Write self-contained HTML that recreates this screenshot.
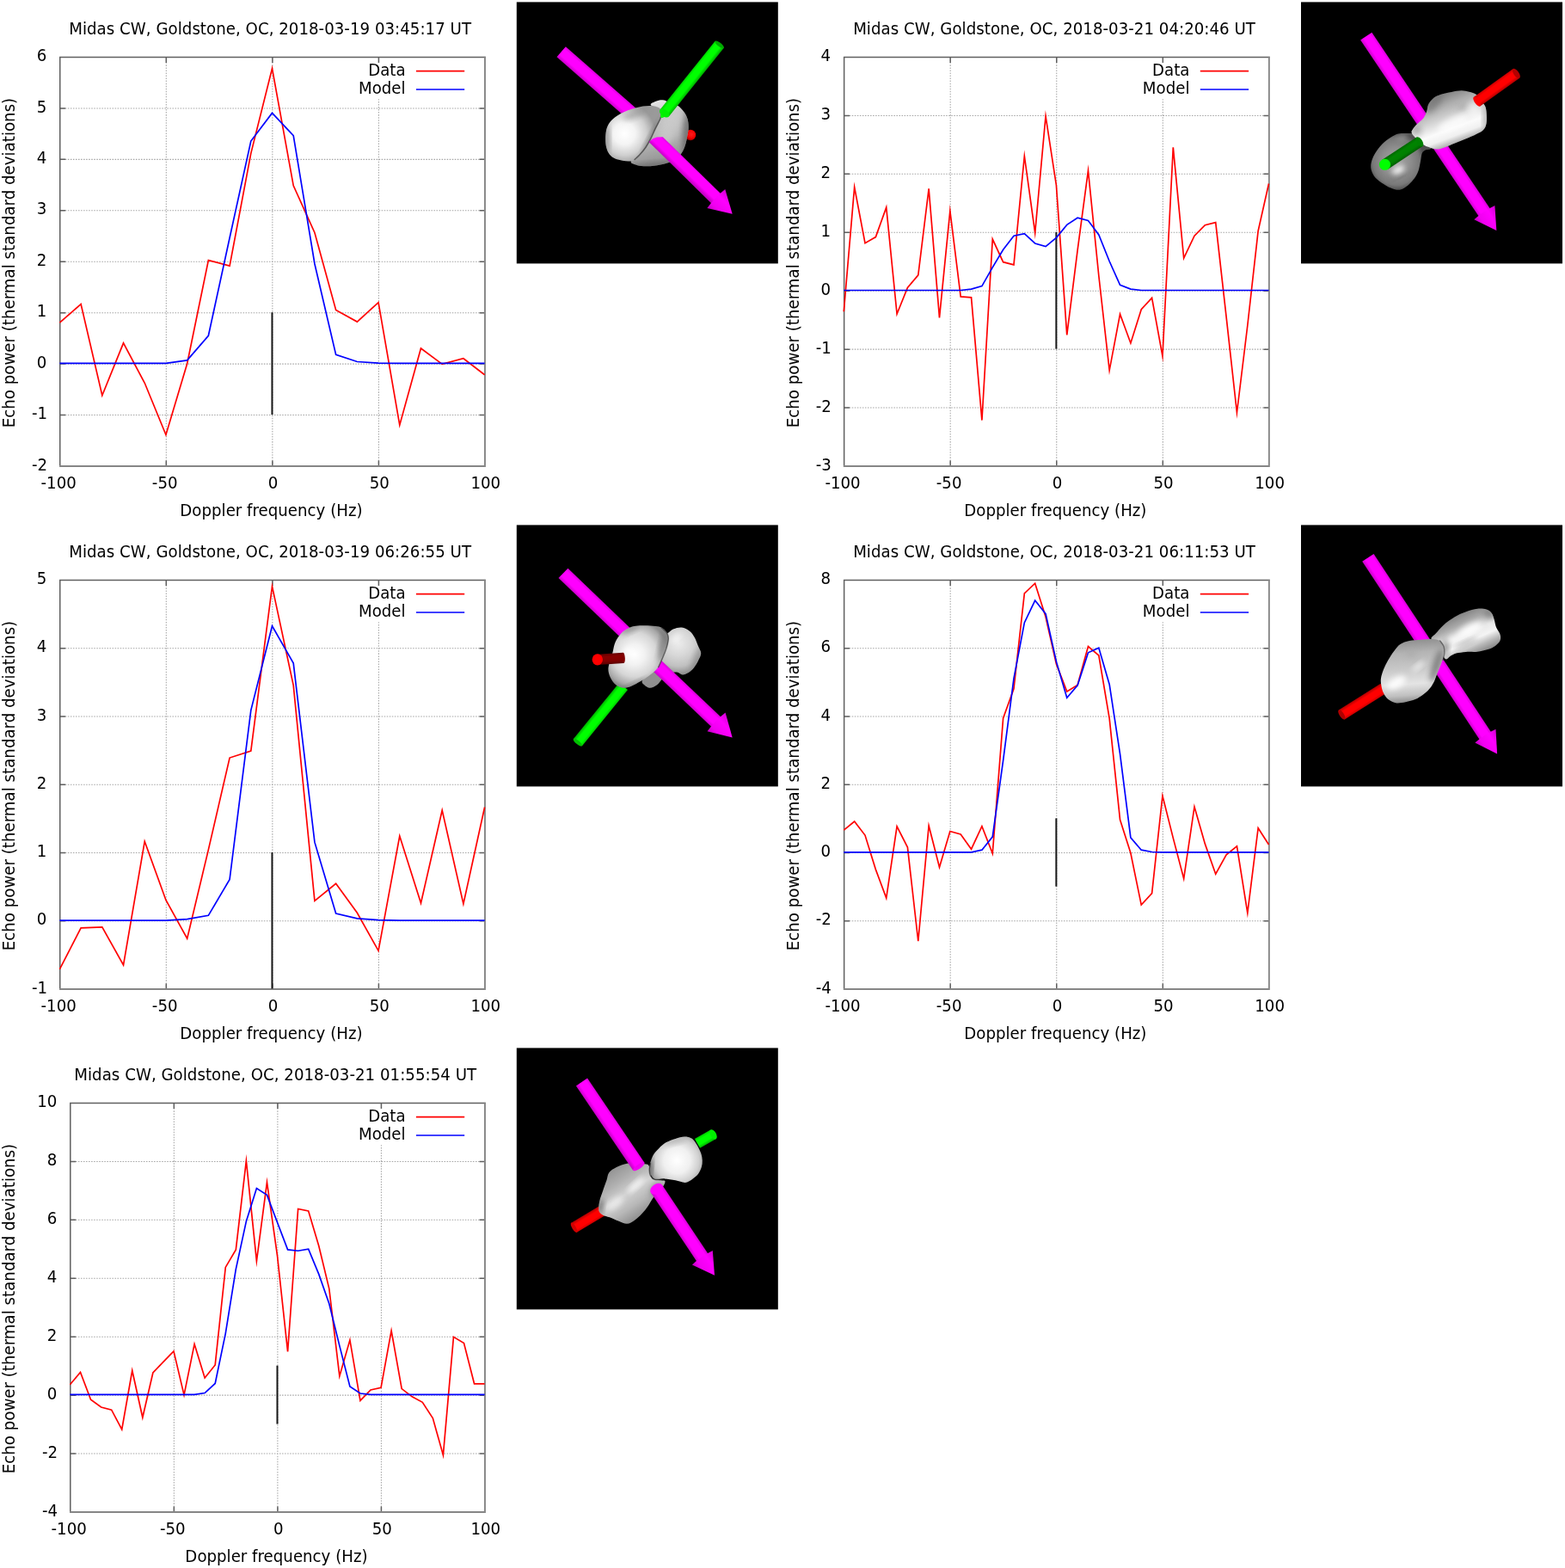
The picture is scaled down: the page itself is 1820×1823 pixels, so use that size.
<!DOCTYPE html>
<html lang="en"><head><meta charset="utf-8"><title>Midas CW spectra, Goldstone</title>
<style>
html,body{margin:0;padding:0;background:#fff}
body{width:1820px;height:1823px;overflow:hidden}
svg{display:block}
text{font-family:"DejaVu Sans","Liberation Sans",sans-serif;font-size:18.2px;fill:#000}
.grid{fill:none;stroke:#a4a4a4;stroke-width:1.05;stroke-dasharray:1.52 1.52}
.frame{fill:none;stroke:#606060;stroke-width:1.5}
.frame2{fill:none;stroke:#868686;stroke-width:1.9}
.mark{fill:none;stroke:#181818;stroke-width:2.0}
.red{fill:none;stroke:#f00;stroke-width:1.7;stroke-linejoin:miter;stroke-miterlimit:9.7}
.blue{fill:none;stroke:#00f;stroke-width:1.7;stroke-linejoin:miter;stroke-miterlimit:9.7}
</style></head><body>
<svg width="1820" height="1823" viewBox="0 0 1820 1823">
<rect width="1820" height="1823" fill="#fff"/>
<g>
<path class="grid" d="M193.3 542V66.48M316.86 542V66.48M440.41 542V66.48M69.75 482.56H563.96M69.75 423.12H563.96M69.75 363.68H563.96M69.75 304.24H563.96M69.75 244.8H563.96M69.75 185.36H563.96M69.75 125.92H563.96"/>
<rect x="420" y="67.48" width="130" height="47.8" fill="#fff"/>
<path class="frame" d="M193.3 542v-6.4M193.3 66.48v6.4M316.86 542v-6.4M316.86 66.48v6.4M440.41 542v-6.4M440.41 66.48v6.4M69.75 482.56h6.4M563.96 482.56h-6.4M69.75 423.12h6.4M563.96 423.12h-6.4M69.75 363.68h6.4M563.96 363.68h-6.4M69.75 304.24h6.4M563.96 304.24h-6.4M69.75 244.8h6.4M563.96 244.8h-6.4M69.75 185.36h6.4M563.96 185.36h-6.4M69.75 125.92h6.4M563.96 125.92h-6.4"/>
<path class="frame" d="M69.75 542.75V66.48H564.71"/>
<path class="frame2" d="M563.96 65.73V542H69"/>
<path class="mark" d="M316.46 363.18V482.06"/>
<polyline class="red" points="69.4,375.12 94.11,353.65 118.82,459.78 143.53,398.85 168.24,445.26 192.95,505.47 217.66,422.67 242.37,302.6 267.08,309.14 291.79,178.37 316.5,79.58 341.22,215.82 365.93,270.5 390.64,360.5 415.35,374.11 440.06,351.67 464.77,494.13 489.48,404.95 514.19,423.38 538.9,416.73 563.61,435.75"/>
<polyline class="blue" points="69.4,422.42 94.11,422.42 118.82,422.42 143.53,422.42 168.24,422.42 192.95,422.42 217.66,418.87 242.37,390.28 267.08,276.45 291.79,164.11 316.5,131.41 341.22,157.57 365.93,306.76 390.64,412.39 415.35,420.53 440.06,422.12 464.77,422.42 489.48,422.42 514.19,422.42 538.9,422.42 563.61,422.42"/>
<path class="red" d="M483.9 82.6H540.2"/>
<path class="blue" d="M483.9 104H540.2"/>
<text transform="translate(80.25 39.5) scale(1 1.035)" textLength="467.8" lengthAdjust="spacing">Midas CW, Goldstone, OC, 2018-03-19 03:45:17 UT</text>
<text transform="translate(315.46 600) scale(1 1.035)" text-anchor="middle">Doppler frequency (Hz)</text>
<text transform="translate(17.3 305.5) rotate(-90) scale(1 1.035)" text-anchor="middle">Echo power (thermal standard deviations)</text>
<text transform="translate(471.6 88.1) scale(1 1.035)" text-anchor="end">Data</text>
<text transform="translate(471.6 109.3) scale(1 1.035)" text-anchor="end">Model</text>
<text transform="translate(68.15 568) scale(1 1.035)" text-anchor="middle">-100</text>
<text transform="translate(191.7 568) scale(1 1.035)" text-anchor="middle">-50</text>
<text transform="translate(317.66 568) scale(1 1.035)" text-anchor="middle">0</text>
<text transform="translate(441.21 568) scale(1 1.035)" text-anchor="middle">50</text>
<text transform="translate(564.76 568) scale(1 1.035)" text-anchor="middle">100</text>
<text transform="translate(55.05 546.6) scale(1 1.035)" text-anchor="end">-2</text>
<text transform="translate(55.05 487.16) scale(1 1.035)" text-anchor="end">-1</text>
<text transform="translate(54.25 427.72) scale(1 1.035)" text-anchor="end">0</text>
<text transform="translate(54.25 368.28) scale(1 1.035)" text-anchor="end">1</text>
<text transform="translate(54.25 308.84) scale(1 1.035)" text-anchor="end">2</text>
<text transform="translate(54.25 249.4) scale(1 1.035)" text-anchor="end">3</text>
<text transform="translate(54.25 189.96) scale(1 1.035)" text-anchor="end">4</text>
<text transform="translate(54.25 130.52) scale(1 1.035)" text-anchor="end">5</text>
<text transform="translate(54.25 71.08) scale(1 1.035)" text-anchor="end">6</text>
</g>
<g>
<path class="grid" d="M1105.2 542V66.48M1228.76 542V66.48M1352.31 542V66.48M981.65 474.07H1475.86M981.65 406.14H1475.86M981.65 338.21H1475.86M981.65 270.27H1475.86M981.65 202.34H1475.86M981.65 134.41H1475.86"/>
<rect x="1331.9" y="67.48" width="130" height="47.8" fill="#fff"/>
<path class="frame" d="M1105.2 542v-6.4M1105.2 66.48v6.4M1228.76 542v-6.4M1228.76 66.48v6.4M1352.31 542v-6.4M1352.31 66.48v6.4M981.65 474.07h6.4M1475.86 474.07h-6.4M981.65 406.14h6.4M1475.86 406.14h-6.4M981.65 338.21h6.4M1475.86 338.21h-6.4M981.65 270.27h6.4M1475.86 270.27h-6.4M981.65 202.34h6.4M1475.86 202.34h-6.4M981.65 134.41h6.4M1475.86 134.41h-6.4"/>
<path class="frame" d="M981.65 542.75V66.48H1476.61"/>
<path class="frame2" d="M1475.86 65.73V542H980.9"/>
<path class="mark" d="M1228.36 269.77V405.64"/>
<polyline class="red" points="981.3,362.21 993.66,217.57 1006.01,282.65 1018.37,275.6 1030.72,241.09 1043.08,365 1055.43,334.5 1067.79,319.82 1080.14,219.35 1092.5,369.41 1104.85,245.26 1117.21,344.89 1129.56,345.91 1141.92,488.56 1154.27,278.04 1166.63,304.67 1178.98,307.87 1191.34,181.41 1203.69,270.77 1216.05,135 1228.41,215.48 1240.76,389.38 1253.12,290.88 1265.47,198.36 1277.83,320.77 1290.18,430.54 1302.54,365.13 1314.89,398.96 1327.25,359.7 1339.6,346.35 1351.96,414.19 1364.31,171.32 1376.67,300.23 1389.02,274.24 1401.38,261.67 1413.73,258.62 1426.09,368.32 1438.44,479.76 1450.8,378.51 1463.15,268.47 1475.51,213.44"/>
<polyline class="blue" points="981.3,337.51 993.66,337.51 1006.01,337.51 1018.37,337.51 1030.72,337.51 1043.08,337.51 1055.43,337.51 1067.79,337.51 1080.14,337.51 1092.5,337.51 1104.85,337.51 1117.21,337.51 1129.56,336.15 1141.92,332.59 1154.27,310.92 1166.63,290.2 1178.98,274.17 1191.34,271.73 1203.69,283 1216.05,286.67 1228.41,276.28 1240.76,261.4 1253.12,253.25 1265.47,256.51 1277.83,272.88 1290.18,303.79 1302.54,331.23 1314.89,336.15 1327.25,337.51 1339.6,337.51 1351.96,337.51 1364.31,337.51 1376.67,337.51 1389.02,337.51 1401.38,337.51 1413.73,337.51 1426.09,337.51 1438.44,337.51 1450.8,337.51 1463.15,337.51 1475.51,337.51"/>
<path class="red" d="M1395.8 82.6H1452.1"/>
<path class="blue" d="M1395.8 104H1452.1"/>
<text transform="translate(992.15 39.5) scale(1 1.035)" textLength="467.8" lengthAdjust="spacing">Midas CW, Goldstone, OC, 2018-03-21 04:20:46 UT</text>
<text transform="translate(1227.36 600) scale(1 1.035)" text-anchor="middle">Doppler frequency (Hz)</text>
<text transform="translate(929.2 305.5) rotate(-90) scale(1 1.035)" text-anchor="middle">Echo power (thermal standard deviations)</text>
<text transform="translate(1383.5 88.1) scale(1 1.035)" text-anchor="end">Data</text>
<text transform="translate(1383.5 109.3) scale(1 1.035)" text-anchor="end">Model</text>
<text transform="translate(980.05 568) scale(1 1.035)" text-anchor="middle">-100</text>
<text transform="translate(1103.6 568) scale(1 1.035)" text-anchor="middle">-50</text>
<text transform="translate(1229.56 568) scale(1 1.035)" text-anchor="middle">0</text>
<text transform="translate(1353.11 568) scale(1 1.035)" text-anchor="middle">50</text>
<text transform="translate(1476.66 568) scale(1 1.035)" text-anchor="middle">100</text>
<text transform="translate(966.95 546.6) scale(1 1.035)" text-anchor="end">-3</text>
<text transform="translate(966.95 478.67) scale(1 1.035)" text-anchor="end">-2</text>
<text transform="translate(966.95 410.74) scale(1 1.035)" text-anchor="end">-1</text>
<text transform="translate(966.15 342.81) scale(1 1.035)" text-anchor="end">0</text>
<text transform="translate(966.15 274.87) scale(1 1.035)" text-anchor="end">1</text>
<text transform="translate(966.15 206.94) scale(1 1.035)" text-anchor="end">2</text>
<text transform="translate(966.15 139.01) scale(1 1.035)" text-anchor="end">3</text>
<text transform="translate(966.15 71.08) scale(1 1.035)" text-anchor="end">4</text>
</g>
<g>
<path class="grid" d="M193.3 1150V674.48M316.86 1150V674.48M440.41 1150V674.48M69.75 1070.75H563.96M69.75 991.49H563.96M69.75 912.24H563.96M69.75 832.99H563.96M69.75 753.73H563.96"/>
<rect x="420" y="675.48" width="130" height="47.8" fill="#fff"/>
<path class="frame" d="M193.3 1150v-6.4M193.3 674.48v6.4M316.86 1150v-6.4M316.86 674.48v6.4M440.41 1150v-6.4M440.41 674.48v6.4M69.75 1070.75h6.4M563.96 1070.75h-6.4M69.75 991.49h6.4M563.96 991.49h-6.4M69.75 912.24h6.4M563.96 912.24h-6.4M69.75 832.99h6.4M563.96 832.99h-6.4M69.75 753.73h6.4M563.96 753.73h-6.4"/>
<path class="frame" d="M69.75 1150.75V674.48H564.71"/>
<path class="frame2" d="M563.96 673.73V1150H69"/>
<path class="mark" d="M316.46 990.99V1149.5"/>
<polyline class="red" points="69.4,1126.8 94.11,1078.78 118.82,1077.9 143.53,1122.01 168.24,978.19 192.95,1046.52 217.66,1091.18 242.37,987.87 267.08,881.04 291.79,873.11 316.5,681.65 341.22,796.87 365.93,1047.37 390.64,1027.34 415.35,1061.26 440.06,1105.33 464.77,972.01 489.48,1050.01 514.19,942.01 538.9,1050.87 563.61,938.5"/>
<polyline class="blue" points="69.4,1070.05 94.11,1070.05 118.82,1070.05 143.53,1070.05 168.24,1070.05 192.95,1070.05 217.66,1068.54 242.37,1064.35 267.08,1022.43 291.79,825.88 316.5,727.74 341.22,771.04 365.93,979.16 390.64,1061.98 415.35,1067.91 440.06,1069.65 464.77,1070.05 489.48,1070.05 514.19,1070.05 538.9,1070.05 563.61,1070.05"/>
<path class="red" d="M483.9 690.6H540.2"/>
<path class="blue" d="M483.9 712H540.2"/>
<text transform="translate(80.25 647.5) scale(1 1.035)" textLength="467.8" lengthAdjust="spacing">Midas CW, Goldstone, OC, 2018-03-19 06:26:55 UT</text>
<text transform="translate(315.46 1208) scale(1 1.035)" text-anchor="middle">Doppler frequency (Hz)</text>
<text transform="translate(17.3 913.5) rotate(-90) scale(1 1.035)" text-anchor="middle">Echo power (thermal standard deviations)</text>
<text transform="translate(471.6 696.1) scale(1 1.035)" text-anchor="end">Data</text>
<text transform="translate(471.6 717.3) scale(1 1.035)" text-anchor="end">Model</text>
<text transform="translate(68.15 1176) scale(1 1.035)" text-anchor="middle">-100</text>
<text transform="translate(191.7 1176) scale(1 1.035)" text-anchor="middle">-50</text>
<text transform="translate(317.66 1176) scale(1 1.035)" text-anchor="middle">0</text>
<text transform="translate(441.21 1176) scale(1 1.035)" text-anchor="middle">50</text>
<text transform="translate(564.76 1176) scale(1 1.035)" text-anchor="middle">100</text>
<text transform="translate(55.05 1154.6) scale(1 1.035)" text-anchor="end">-1</text>
<text transform="translate(54.25 1075.35) scale(1 1.035)" text-anchor="end">0</text>
<text transform="translate(54.25 996.09) scale(1 1.035)" text-anchor="end">1</text>
<text transform="translate(54.25 916.84) scale(1 1.035)" text-anchor="end">2</text>
<text transform="translate(54.25 837.59) scale(1 1.035)" text-anchor="end">3</text>
<text transform="translate(54.25 758.33) scale(1 1.035)" text-anchor="end">4</text>
<text transform="translate(54.25 679.08) scale(1 1.035)" text-anchor="end">5</text>
</g>
<g>
<path class="grid" d="M1105.2 1150V674.48M1228.76 1150V674.48M1352.31 1150V674.48M981.65 1070.75H1475.86M981.65 991.49H1475.86M981.65 912.24H1475.86M981.65 832.99H1475.86M981.65 753.73H1475.86"/>
<rect x="1331.9" y="675.48" width="130" height="47.8" fill="#fff"/>
<path class="frame" d="M1105.2 1150v-6.4M1105.2 674.48v6.4M1228.76 1150v-6.4M1228.76 674.48v6.4M1352.31 1150v-6.4M1352.31 674.48v6.4M981.65 1070.75h6.4M1475.86 1070.75h-6.4M981.65 991.49h6.4M1475.86 991.49h-6.4M981.65 912.24h6.4M1475.86 912.24h-6.4M981.65 832.99h6.4M1475.86 832.99h-6.4M981.65 753.73h6.4M1475.86 753.73h-6.4"/>
<path class="frame" d="M981.65 1150.75V674.48H1476.61"/>
<path class="frame2" d="M1475.86 673.73V1150H980.9"/>
<path class="mark" d="M1228.36 951.37V1030.62"/>
<polyline class="red" points="981.3,965.05 993.66,955.06 1006.01,971.03 1018.37,1010.86 1030.72,1044.01 1043.08,960.82 1055.43,985.1 1067.79,1094.27 1080.14,959.98 1092.5,1008.2 1104.85,966.47 1117.21,970.04 1129.56,987.21 1141.92,960.73 1154.27,992.29 1166.63,834.91 1178.98,800.84 1191.34,689.88 1203.69,678.19 1216.05,717.22 1228.41,771.91 1240.76,804.01 1253.12,796.48 1265.47,751.48 1277.83,762 1290.18,835.31 1302.54,953.12 1314.89,991.84 1327.25,1052.05 1339.6,1038.6 1351.96,925.28 1364.31,974.4 1376.67,1021.5 1389.02,937.94 1401.38,981.14 1413.73,1016.2 1426.09,993.82 1438.44,983.86 1450.8,1061.46 1463.15,962.67 1475.51,982.05"/>
<polyline class="blue" points="981.3,990.79 993.66,990.79 1006.01,990.79 1018.37,990.79 1030.72,990.79 1043.08,990.79 1055.43,990.79 1067.79,990.79 1080.14,990.79 1092.5,990.79 1104.85,990.79 1117.21,990.79 1129.56,990.79 1141.92,988.19 1154.27,972.89 1166.63,884.05 1178.98,788.95 1191.34,723.96 1203.69,698.02 1216.05,713.66 1228.41,769.13 1240.76,811.19 1253.12,796.87 1265.47,758.83 1277.83,753.28 1290.18,795.68 1302.54,876.52 1314.89,973.88 1327.25,988.19 1339.6,990.52 1351.96,990.79 1364.31,990.79 1376.67,990.79 1389.02,990.79 1401.38,990.79 1413.73,990.79 1426.09,990.79 1438.44,990.79 1450.8,990.79 1463.15,990.79 1475.51,990.79"/>
<path class="red" d="M1395.8 690.6H1452.1"/>
<path class="blue" d="M1395.8 712H1452.1"/>
<text transform="translate(992.15 647.5) scale(1 1.035)" textLength="467.8" lengthAdjust="spacing">Midas CW, Goldstone, OC, 2018-03-21 06:11:53 UT</text>
<text transform="translate(1227.36 1208) scale(1 1.035)" text-anchor="middle">Doppler frequency (Hz)</text>
<text transform="translate(929.2 913.5) rotate(-90) scale(1 1.035)" text-anchor="middle">Echo power (thermal standard deviations)</text>
<text transform="translate(1383.5 696.1) scale(1 1.035)" text-anchor="end">Data</text>
<text transform="translate(1383.5 717.3) scale(1 1.035)" text-anchor="end">Model</text>
<text transform="translate(980.05 1176) scale(1 1.035)" text-anchor="middle">-100</text>
<text transform="translate(1103.6 1176) scale(1 1.035)" text-anchor="middle">-50</text>
<text transform="translate(1229.56 1176) scale(1 1.035)" text-anchor="middle">0</text>
<text transform="translate(1353.11 1176) scale(1 1.035)" text-anchor="middle">50</text>
<text transform="translate(1476.66 1176) scale(1 1.035)" text-anchor="middle">100</text>
<text transform="translate(966.95 1154.6) scale(1 1.035)" text-anchor="end">-4</text>
<text transform="translate(966.95 1075.35) scale(1 1.035)" text-anchor="end">-2</text>
<text transform="translate(966.15 996.09) scale(1 1.035)" text-anchor="end">0</text>
<text transform="translate(966.15 916.84) scale(1 1.035)" text-anchor="end">2</text>
<text transform="translate(966.15 837.59) scale(1 1.035)" text-anchor="end">4</text>
<text transform="translate(966.15 758.33) scale(1 1.035)" text-anchor="end">6</text>
<text transform="translate(966.15 679.08) scale(1 1.035)" text-anchor="end">8</text>
</g>
<g>
<path class="grid" d="M202.34 1758V1282.48M322.88 1758V1282.48M443.42 1758V1282.48M81.8 1690.07H563.96M81.8 1622.14H563.96M81.8 1554.21H563.96M81.8 1486.27H563.96M81.8 1418.34H563.96M81.8 1350.41H563.96"/>
<rect x="420" y="1283.48" width="130" height="47.8" fill="#fff"/>
<path class="frame" d="M202.34 1758v-6.4M202.34 1282.48v6.4M322.88 1758v-6.4M322.88 1282.48v6.4M443.42 1758v-6.4M443.42 1282.48v6.4M81.8 1690.07h6.4M563.96 1690.07h-6.4M81.8 1622.14h6.4M563.96 1622.14h-6.4M81.8 1554.21h6.4M563.96 1554.21h-6.4M81.8 1486.27h6.4M563.96 1486.27h-6.4M81.8 1418.34h6.4M563.96 1418.34h-6.4M81.8 1350.41h6.4M563.96 1350.41h-6.4"/>
<path class="frame" d="M81.8 1758.75V1282.48H564.71"/>
<path class="frame2" d="M563.96 1281.73V1758H81.05"/>
<path class="mark" d="M322.48 1587.67V1655.6"/>
<polyline class="red" points="81.45,1609.8 93.5,1595.46 105.56,1627.26 117.61,1635.95 129.67,1639.15 141.72,1661.97 153.77,1593.49 165.83,1648.04 177.88,1595.94 189.94,1583.31 201.99,1570.84 214.04,1621.87 226.1,1562.65 238.15,1602.01 250.21,1586.94 262.26,1473.43 274.31,1452.88 286.37,1349.6 298.42,1466.2 310.48,1374.52 322.53,1460.01 334.58,1571.42 346.64,1405.5 358.69,1408.04 370.75,1448.46 382.8,1498.39 394.85,1599.92 406.91,1557.97 418.96,1628.4 431.02,1615.98 443.07,1613.4 455.12,1547.08 467.18,1614.55 479.23,1623.83 491.29,1630.28 503.34,1648.86 515.39,1691.77 527.45,1554.38 539.5,1561.64 551.56,1608.81 563.61,1608.81"/>
<polyline class="blue" points="81.45,1621.44 93.5,1621.44 105.56,1621.44 117.61,1621.44 129.67,1621.44 141.72,1621.44 153.77,1621.44 165.83,1621.44 177.88,1621.44 189.94,1621.44 201.99,1621.44 214.04,1621.44 226.1,1621.44 238.15,1619.55 250.21,1608.44 262.26,1550.36 274.31,1475.63 286.37,1419.93 298.42,1381.58 310.48,1389.36 322.53,1421.29 334.58,1452.88 346.64,1454.24 358.69,1452.2 370.75,1481.41 382.8,1515.71 394.85,1564.62 406.91,1611.97 418.96,1619.99 431.02,1621.44 443.07,1621.44 455.12,1621.44 467.18,1621.44 479.23,1621.44 491.29,1621.44 503.34,1621.44 515.39,1621.44 527.45,1621.44 539.5,1621.44 551.56,1621.44 563.61,1621.44"/>
<path class="red" d="M483.9 1298.6H540.2"/>
<path class="blue" d="M483.9 1320H540.2"/>
<text transform="translate(86.3 1255.5) scale(1 1.035)" textLength="467.8" lengthAdjust="spacing">Midas CW, Goldstone, OC, 2018-03-21 01:55:54 UT</text>
<text transform="translate(321.48 1816) scale(1 1.035)" text-anchor="middle">Doppler frequency (Hz)</text>
<text transform="translate(17.3 1521.5) rotate(-90) scale(1 1.035)" text-anchor="middle">Echo power (thermal standard deviations)</text>
<text transform="translate(471.6 1304.1) scale(1 1.035)" text-anchor="end">Data</text>
<text transform="translate(471.6 1325.3) scale(1 1.035)" text-anchor="end">Model</text>
<text transform="translate(80.2 1784) scale(1 1.035)" text-anchor="middle">-100</text>
<text transform="translate(200.74 1784) scale(1 1.035)" text-anchor="middle">-50</text>
<text transform="translate(323.68 1784) scale(1 1.035)" text-anchor="middle">0</text>
<text transform="translate(444.22 1784) scale(1 1.035)" text-anchor="middle">50</text>
<text transform="translate(564.76 1784) scale(1 1.035)" text-anchor="middle">100</text>
<text transform="translate(67.1 1762.6) scale(1 1.035)" text-anchor="end">-4</text>
<text transform="translate(67.1 1694.67) scale(1 1.035)" text-anchor="end">-2</text>
<text transform="translate(66.3 1626.74) scale(1 1.035)" text-anchor="end">0</text>
<text transform="translate(66.3 1558.81) scale(1 1.035)" text-anchor="end">2</text>
<text transform="translate(66.3 1490.87) scale(1 1.035)" text-anchor="end">4</text>
<text transform="translate(66.3 1422.94) scale(1 1.035)" text-anchor="end">6</text>
<text transform="translate(66.3 1355.01) scale(1 1.035)" text-anchor="end">8</text>
<text transform="translate(66.3 1287.08) scale(1 1.035)" text-anchor="end">10</text>
</g>
<defs><filter id="soft" x="-5%" y="-5%" width="110%" height="110%"><feGaussianBlur stdDeviation="0.7"/></filter><filter id="b3" x="-50%" y="-50%" width="200%" height="200%"><feGaussianBlur stdDeviation="3"/></filter><filter id="b1" x="-50%" y="-50%" width="200%" height="200%"><feGaussianBlur stdDeviation="0.6"/></filter><filter id="b2" x="-50%" y="-50%" width="200%" height="200%"><feGaussianBlur stdDeviation="1.6"/></filter></defs>
<g>
<defs><linearGradient id="g1_1" gradientUnits="userSpaceOnUse" x1="657.9" y1="54.3" x2="647.5" y2="66.2"><stop offset="0" stop-color="#d800d8"/><stop offset="0.2" stop-color="#ff00ff"/><stop offset="0.72" stop-color="#ff00ff"/><stop offset="1" stop-color="#c800c8"/></linearGradient><radialGradient id="g1_2" gradientUnits="userSpaceOnUse" cx="804" cy="156" r="7"><stop offset="0" stop-color="#ff1a1a"/><stop offset="0.7" stop-color="#f00000"/><stop offset="1" stop-color="#a00000"/></radialGradient><linearGradient id="g1_3" gradientUnits="userSpaceOnUse" x1="766.9" y1="116.9" x2="786.2" y2="188.5"><stop offset="0" stop-color="#e6e6e6"/><stop offset="0.25" stop-color="#c4c4c4"/><stop offset="0.6" stop-color="#b4b4b4"/><stop offset="1" stop-color="#8c8c8c"/></linearGradient><clipPath id="g1_4"><path d="M756.9 122.3C755.6 120.2 759.9 119.3 761.5 118.3C763.2 117.3 765.1 116.7 766.9 116.4C768.7 116.1 770.6 116.2 772.3 116.5C774 116.9 774.4 117.5 776.9 118.5C779.5 119.4 784.6 120.5 787.7 122.5C790.8 124.4 793.4 127.3 795.4 130C797.4 132.7 798.7 135.3 799.6 138.5C800.5 141.7 800.7 145.5 800.6 149.2C800.5 152.9 799.5 157.3 798.8 160.8C798.2 164.2 797.6 167.1 796.5 170C795.5 172.9 794.3 175.7 792.7 178.1C791.1 180.4 789.8 182.3 786.9 184.2C784 186.2 779.7 188.4 775.4 189.8C771 191.3 765.3 192.1 760.8 192.7C756.3 193.3 752.1 193.4 748.5 193.2C744.9 193 741.7 192.5 739.2 191.5C736.8 190.6 733.1 190.1 733.8 187.7C734.6 185.3 740.3 181.3 743.8 176.9C747.4 172.6 752.2 166.7 755.4 161.5C758.6 156.4 760.8 151.3 763.1 146.2C765.4 141 770.3 134.7 769.2 130.8C768.2 126.8 758.2 124.4 756.9 122.3Z"/></clipPath><radialGradient id="g1_5" gradientUnits="userSpaceOnUse" cx="799.2" cy="153.8" r="1"><stop offset="0" stop-color="#606060" stop-opacity="0.8"/><stop offset="0.6" stop-color="#606060" stop-opacity="0.48"/><stop offset="1" stop-color="#606060" stop-opacity="0"/></radialGradient><radialGradient id="g1_6" gradientUnits="userSpaceOnUse" cx="759.2" cy="193.1" r="1"><stop offset="0" stop-color="#606060" stop-opacity="0.7"/><stop offset="0.6" stop-color="#606060" stop-opacity="0.42"/><stop offset="1" stop-color="#606060" stop-opacity="0"/></radialGradient><radialGradient id="g1_7" gradientUnits="userSpaceOnUse" cx="726.2" cy="155.4" r="36"><stop offset="0" stop-color="#ffffff"/><stop offset="0.35" stop-color="#f4f4f4"/><stop offset="0.7" stop-color="#cfcfcf"/><stop offset="1" stop-color="#9a9a9a"/></radialGradient><clipPath id="g1_8"><path d="M704.2 161.5C704.2 158.1 704.5 153.9 705.2 150.8C706 147.6 707.2 145.1 708.8 142.7C710.5 140.3 712.4 138.5 715 136.5C717.6 134.6 721.1 132.5 724.6 130.8C728.1 129.1 732.3 127.5 736.2 126.3C740 125.1 744.1 124.2 747.7 123.6C751.3 123.1 754.6 122.8 757.7 123.1C760.8 123.3 764.1 124.1 766.2 125.2C768.2 126.3 769.6 128 770.2 129.6C770.7 131.2 770.3 132.2 769.2 135C768.2 137.8 765.8 142.2 763.8 146.2C761.9 150.1 759.6 154.6 757.7 158.5C755.8 162.3 754.4 165.9 752.3 169.2C750.3 172.6 747.8 175.6 745.4 178.5C742.9 181.3 740 184.7 737.7 186.2C735.4 187.7 733.8 187.4 731.5 187.5C729.2 187.6 726.5 187.2 723.8 186.8C721.2 186.3 717.9 185.8 715.4 184.6C712.9 183.4 710.5 181.8 708.8 179.6C707.2 177.4 706 174.6 705.2 171.5C704.5 168.5 704.2 165 704.2 161.5Z"/></clipPath><radialGradient id="g1_9" gradientUnits="userSpaceOnUse" cx="739.2" cy="132.3" r="1"><stop offset="0" stop-color="#909090" stop-opacity="0.6"/><stop offset="0.6" stop-color="#909090" stop-opacity="0.36"/><stop offset="1" stop-color="#909090" stop-opacity="0"/></radialGradient><radialGradient id="g1_10" gradientUnits="userSpaceOnUse" cx="705.4" cy="161.5" r="1"><stop offset="0" stop-color="#7a7a7a" stop-opacity="0.8"/><stop offset="0.6" stop-color="#7a7a7a" stop-opacity="0.48"/><stop offset="1" stop-color="#7a7a7a" stop-opacity="0"/></radialGradient><radialGradient id="g1_11" gradientUnits="userSpaceOnUse" cx="757.7" cy="161.5" r="1"><stop offset="0" stop-color="#707070" stop-opacity="0.8"/><stop offset="0.6" stop-color="#707070" stop-opacity="0.48"/><stop offset="1" stop-color="#707070" stop-opacity="0"/></radialGradient><linearGradient id="g1_12" gradientUnits="userSpaceOnUse" x1="767.6" y1="127.5" x2="777.8" y2="135.6"><stop offset="0" stop-color="#00c800"/><stop offset="0.25" stop-color="#00ff00"/><stop offset="0.7" stop-color="#00ff00"/><stop offset="1" stop-color="#00b000"/></linearGradient><linearGradient id="g1_13" gradientUnits="userSpaceOnUse" x1="769.3" y1="157" x2="758.4" y2="168.4"><stop offset="0" stop-color="#d800d8"/><stop offset="0.2" stop-color="#ff00ff"/><stop offset="0.72" stop-color="#ff00ff"/><stop offset="1" stop-color="#c800c8"/></linearGradient><linearGradient id="g1_14" gradientUnits="userSpaceOnUse" x1="843.3" y1="219.9" x2="822.4" y2="241.9"><stop offset="0" stop-color="#d000d0"/><stop offset="0.35" stop-color="#ff00ff"/><stop offset="0.75" stop-color="#f000f0"/><stop offset="1" stop-color="#c000c0"/></linearGradient><clipPath id="box1"><rect x="600.8" y="2.4" width="304" height="304"/></clipPath></defs>
<rect x="600.8" y="2.4" width="304" height="304" fill="#000"/>
<g clip-path="url(#box1)" filter="url(#soft)">
<path d="M647.5 66.2L657.9 54.3L749 134.1L738.6 145.9Z" fill="url(#g1_1)"/>
<circle cx="803" cy="157" r="6.2" fill="url(#g1_2)"/>
<path d="M756.9 122.3C755.6 120.2 759.9 119.3 761.5 118.3C763.2 117.3 765.1 116.7 766.9 116.4C768.7 116.1 770.6 116.2 772.3 116.5C774 116.9 774.4 117.5 776.9 118.5C779.5 119.4 784.6 120.5 787.7 122.5C790.8 124.4 793.4 127.3 795.4 130C797.4 132.7 798.7 135.3 799.6 138.5C800.5 141.7 800.7 145.5 800.6 149.2C800.5 152.9 799.5 157.3 798.8 160.8C798.2 164.2 797.6 167.1 796.5 170C795.5 172.9 794.3 175.7 792.7 178.1C791.1 180.4 789.8 182.3 786.9 184.2C784 186.2 779.7 188.4 775.4 189.8C771 191.3 765.3 192.1 760.8 192.7C756.3 193.3 752.1 193.4 748.5 193.2C744.9 193 741.7 192.5 739.2 191.5C736.8 190.6 733.1 190.1 733.8 187.7C734.6 185.3 740.3 181.3 743.8 176.9C747.4 172.6 752.2 166.7 755.4 161.5C758.6 156.4 760.8 151.3 763.1 146.2C765.4 141 770.3 134.7 769.2 130.8C768.2 126.8 758.2 124.4 756.9 122.3Z" fill="url(#g1_3)"/>
<g clip-path="url(#g1_4)">
<ellipse cx="799.2" cy="153.8" rx="5" ry="30" transform="rotate(5 799.2 153.8)" fill="#606060" opacity="0.8" filter="url(#b3)"/>
<ellipse cx="759.2" cy="193.1" rx="30" ry="4" transform="rotate(-5 759.2 193.1)" fill="#606060" opacity="0.7" filter="url(#b3)"/>
<ellipse cx="778.5" cy="147.7" rx="10" ry="22" transform="rotate(20 778.5 147.7)" fill="#d0d0d0" opacity="0.6" filter="url(#b3)"/>
</g>
<path d="M704.2 161.5C704.2 158.1 704.5 153.9 705.2 150.8C706 147.6 707.2 145.1 708.8 142.7C710.5 140.3 712.4 138.5 715 136.5C717.6 134.6 721.1 132.5 724.6 130.8C728.1 129.1 732.3 127.5 736.2 126.3C740 125.1 744.1 124.2 747.7 123.6C751.3 123.1 754.6 122.8 757.7 123.1C760.8 123.3 764.1 124.1 766.2 125.2C768.2 126.3 769.6 128 770.2 129.6C770.7 131.2 770.3 132.2 769.2 135C768.2 137.8 765.8 142.2 763.8 146.2C761.9 150.1 759.6 154.6 757.7 158.5C755.8 162.3 754.4 165.9 752.3 169.2C750.3 172.6 747.8 175.6 745.4 178.5C742.9 181.3 740 184.7 737.7 186.2C735.4 187.7 733.8 187.4 731.5 187.5C729.2 187.6 726.5 187.2 723.8 186.8C721.2 186.3 717.9 185.8 715.4 184.6C712.9 183.4 710.5 181.8 708.8 179.6C707.2 177.4 706 174.6 705.2 171.5C704.5 168.5 704.2 165 704.2 161.5Z" fill="url(#g1_7)"/>
<g clip-path="url(#g1_8)">
<ellipse cx="739.2" cy="132.3" rx="16" ry="4" transform="rotate(-20 739.2 132.3)" fill="#909090" opacity="0.6" filter="url(#b3)"/>
<ellipse cx="705.4" cy="161.5" rx="3" ry="18" transform="rotate(0 705.4 161.5)" fill="#7a7a7a" opacity="0.8" filter="url(#b3)"/>
<ellipse cx="757.7" cy="161.5" rx="3" ry="24" transform="rotate(28 757.7 161.5)" fill="#707070" opacity="0.8" filter="url(#b3)"/>
</g>
<path d="M770.4 130.4C769.9 131.7 769 135.3 767.7 138.5C766.3 141.6 764.1 145.5 762.3 149.2C760.5 152.9 758.8 157.1 756.9 160.8C755 164.5 752.9 168.3 750.8 171.5C748.6 174.7 746 177.7 743.8 180C741.7 182.3 739 184.6 738.1 185.5" fill="none" stroke="#3c3c3c" stroke-width="1.5" stroke-linecap="round" opacity="0.75" filter="url(#b1)"/>
<path d="M777.8 135.6L767.6 127.5L831.6 47.7L841.8 55.8Z" fill="url(#g1_12)"/>
<ellipse cx="772.7" cy="131.5" rx="6.5" ry="3" transform="rotate(-52 772.7 131.5)" fill="#00ff00"/>
<ellipse cx="772.7" cy="131.5" rx="6.5" ry="4" transform="rotate(38 772.7 131.5)" fill="#00f000"/>
<ellipse cx="836.7" cy="51.8" rx="6.5" ry="2.2" transform="rotate(38 836.7 51.8)" fill="#00a800"/>
<path d="M754.6 165L759.2 161.2L763.8 159.4L770.8 159.2L838.3 225.2L827.4 236.6Z" fill="url(#g1_13)"/>
<path d="M851.7 248.8L822.4 241.9Q831.2 229.4 843.3 219.9Z" fill="url(#g1_14)"/>
</g></g>
<g>
<defs><linearGradient id="g2_1" gradientUnits="userSpaceOnUse" x1="1595.4" y1="37.7" x2="1582.1" y2="46.6"><stop offset="0" stop-color="#d800d8"/><stop offset="0.2" stop-color="#ff00ff"/><stop offset="0.72" stop-color="#ff00ff"/><stop offset="1" stop-color="#c800c8"/></linearGradient><radialGradient id="g2_2" gradientUnits="userSpaceOnUse" cx="1623.7" cy="188" r="33"><stop offset="0" stop-color="#a8a8a8"/><stop offset="0.5" stop-color="#8e8e8e"/><stop offset="0.82" stop-color="#787878"/><stop offset="1" stop-color="#505050"/></radialGradient><clipPath id="g2_3"><path d="M1642.7 155.1C1640.2 154.6 1638.3 155.1 1636.1 155.1C1633.9 155.1 1631.8 154.8 1629.5 155.1C1627.2 155.4 1625 155.5 1622.1 156.9C1619.2 158.2 1615.4 160.7 1612.2 163.3C1609 165.9 1605.7 169.2 1603.1 172.4C1600.6 175.5 1598.4 179 1597 182.3C1595.5 185.5 1594.4 189.1 1594.2 192.1C1594 195.2 1594.5 197.6 1595.7 200.4C1596.9 203.1 1598.7 206 1601.5 208.6C1604.2 211.2 1608.8 214.1 1612.2 216C1615.6 218 1619.2 219.5 1622.1 220.2C1625 220.9 1626.9 221 1629.5 220.2C1632.1 219.3 1635.1 217.4 1637.7 215.2C1640.4 213 1643.2 209.7 1645.2 207C1647.1 204.2 1648.3 201.9 1649.5 198.7C1650.6 195.6 1651.2 191.5 1651.9 188C1652.7 184.6 1652.9 180.4 1653.8 178.1C1654.8 175.9 1655.8 175.4 1657.5 174.4C1659.2 173.5 1663.8 174.1 1664.1 172.4C1664.4 170.6 1661.4 166.6 1659.2 164.1C1657 161.6 1653.7 159 1650.9 157.5C1648.2 156 1645.2 155.5 1642.7 155.1Z"/></clipPath><radialGradient id="g2_4" gradientUnits="userSpaceOnUse" cx="1626.2" cy="203.7" r="1"><stop offset="0" stop-color="#606060" stop-opacity="0.6"/><stop offset="0.6" stop-color="#606060" stop-opacity="0.36"/><stop offset="1" stop-color="#606060" stop-opacity="0"/></radialGradient><linearGradient id="g2_5" gradientUnits="userSpaceOnUse" x1="1671.5" y1="109.7" x2="1694.6" y2="170.7"><stop offset="0" stop-color="#7c7c7c"/><stop offset="0.22" stop-color="#ababab"/><stop offset="0.45" stop-color="#d4d4d4"/><stop offset="0.66" stop-color="#fbfbfb"/><stop offset="0.8" stop-color="#f0f0f0"/><stop offset="0.92" stop-color="#b4b4b4"/><stop offset="1" stop-color="#808080"/></linearGradient><clipPath id="g2_6"><path d="M1641.9 155.1C1640.8 152.9 1642.1 151.9 1643.1 150.1C1644.1 148.4 1645.6 146.6 1647.6 144.5C1649.6 142.4 1653.1 140.2 1655.1 137.7C1657 135.2 1658.1 132.3 1659.2 129.5C1660.2 126.8 1659.9 123.9 1661.2 121.3C1662.6 118.7 1665 115.8 1667.4 113.8C1669.8 111.9 1672.2 110.9 1675.7 109.7C1679.1 108.6 1684 107.7 1688 106.9C1692 106.2 1696.1 105.3 1699.6 105.3C1703 105.3 1705.7 106.1 1708.6 106.8C1711.5 107.6 1714.4 108 1716.9 109.9C1719.3 111.7 1721.7 115.5 1723.5 118C1725.2 120.4 1726.7 121.8 1727.6 124.6C1728.5 127.3 1728.7 131.2 1728.8 134.5C1729 137.7 1729 141.6 1728.4 144.3C1727.8 147.1 1727 149 1725.1 150.9C1723.2 152.9 1720.3 154.3 1716.9 156C1713.4 157.8 1708.6 159.9 1704.5 161.6C1700.4 163.4 1696.3 164.9 1692.1 166.6C1688 168.2 1683.2 170.4 1679.8 171.5C1676.3 172.7 1674.3 173.6 1671.5 173.6C1668.8 173.6 1665.8 172.5 1663.3 171.7C1660.8 170.9 1659 170.5 1656.7 169.1C1654.4 167.7 1651.8 165.6 1649.3 163.3C1646.8 161 1642.9 157.3 1641.9 155.1Z"/></clipPath><radialGradient id="g2_7" gradientUnits="userSpaceOnUse" cx="1667.4" cy="119.6" r="1"><stop offset="0" stop-color="#707070" stop-opacity="0.6"/><stop offset="0.6" stop-color="#707070" stop-opacity="0.36"/><stop offset="1" stop-color="#707070" stop-opacity="0"/></radialGradient><radialGradient id="g2_8" gradientUnits="userSpaceOnUse" cx="1728.4" cy="136.1" r="1"><stop offset="0" stop-color="#888888" stop-opacity="0.7"/><stop offset="0.6" stop-color="#888888" stop-opacity="0.42"/><stop offset="1" stop-color="#888888" stop-opacity="0"/></radialGradient><radialGradient id="g2_9" gradientUnits="userSpaceOnUse" cx="1700.4" cy="123.7" r="1"><stop offset="0" stop-color="#a0a0a0" stop-opacity="0.6"/><stop offset="0.6" stop-color="#a0a0a0" stop-opacity="0.36"/><stop offset="1" stop-color="#a0a0a0" stop-opacity="0"/></radialGradient><radialGradient id="g2_10" gradientUnits="userSpaceOnUse" cx="1647.6" cy="150.9" r="1"><stop offset="0" stop-color="#909090" stop-opacity="0.6"/><stop offset="0.6" stop-color="#909090" stop-opacity="0.36"/><stop offset="1" stop-color="#909090" stop-opacity="0"/></radialGradient><linearGradient id="g2_11" gradientUnits="userSpaceOnUse" x1="1607" y1="186" x2="1614.1" y2="196.7"><stop offset="0" stop-color="#006400"/><stop offset="0.3" stop-color="#008400"/><stop offset="0.7" stop-color="#008000"/><stop offset="1" stop-color="#005c00"/></linearGradient><linearGradient id="g2_12" gradientUnits="userSpaceOnUse" x1="1713.7" y1="113" x2="1721.3" y2="123.6"><stop offset="0" stop-color="#c80000"/><stop offset="0.25" stop-color="#ff0000"/><stop offset="0.7" stop-color="#ff0000"/><stop offset="1" stop-color="#b00000"/></linearGradient><linearGradient id="g2_13" gradientUnits="userSpaceOnUse" x1="1738.4" y1="239.1" x2="1714.3" y2="255.3"><stop offset="0" stop-color="#d000d0"/><stop offset="0.35" stop-color="#ff00ff"/><stop offset="0.75" stop-color="#f000f0"/><stop offset="1" stop-color="#c000c0"/></linearGradient><clipPath id="box2"><rect x="1513" y="2.4" width="304" height="304"/></clipPath></defs>
<rect x="1513" y="2.4" width="304" height="304" fill="#000"/>
<g clip-path="url(#box2)" filter="url(#soft)">
<path d="M1582.1 46.6L1595.4 37.7L1733 242.7L1719.7 251.6Z" fill="url(#g2_1)"/>
<path d="M1642.7 155.1C1640.2 154.6 1638.3 155.1 1636.1 155.1C1633.9 155.1 1631.8 154.8 1629.5 155.1C1627.2 155.4 1625 155.5 1622.1 156.9C1619.2 158.2 1615.4 160.7 1612.2 163.3C1609 165.9 1605.7 169.2 1603.1 172.4C1600.6 175.5 1598.4 179 1597 182.3C1595.5 185.5 1594.4 189.1 1594.2 192.1C1594 195.2 1594.5 197.6 1595.7 200.4C1596.9 203.1 1598.7 206 1601.5 208.6C1604.2 211.2 1608.8 214.1 1612.2 216C1615.6 218 1619.2 219.5 1622.1 220.2C1625 220.9 1626.9 221 1629.5 220.2C1632.1 219.3 1635.1 217.4 1637.7 215.2C1640.4 213 1643.2 209.7 1645.2 207C1647.1 204.2 1648.3 201.9 1649.5 198.7C1650.6 195.6 1651.2 191.5 1651.9 188C1652.7 184.6 1652.9 180.4 1653.8 178.1C1654.8 175.9 1655.8 175.4 1657.5 174.4C1659.2 173.5 1663.8 174.1 1664.1 172.4C1664.4 170.6 1661.4 166.6 1659.2 164.1C1657 161.6 1653.7 159 1650.9 157.5C1648.2 156 1645.2 155.5 1642.7 155.1Z" fill="url(#g2_2)"/>
<g clip-path="url(#g2_3)">
<ellipse cx="1626.2" cy="203.7" rx="9" ry="2.5" transform="rotate(-25 1626.2 203.7)" fill="#606060" opacity="0.6" filter="url(#b3)"/>
<ellipse cx="1626.2" cy="197.9" rx="8" ry="4" transform="rotate(-28 1626.2 197.9)" fill="#ffffff" opacity="0.95" filter="url(#b3)"/>
<ellipse cx="1631.2" cy="159.2" rx="7" ry="3" transform="rotate(-20 1631.2 159.2)" fill="#b8b8b8" opacity="0.5" filter="url(#b3)"/>
</g>
<path d="M1641.9 155.1C1640.8 152.9 1642.1 151.9 1643.1 150.1C1644.1 148.4 1645.6 146.6 1647.6 144.5C1649.6 142.4 1653.1 140.2 1655.1 137.7C1657 135.2 1658.1 132.3 1659.2 129.5C1660.2 126.8 1659.9 123.9 1661.2 121.3C1662.6 118.7 1665 115.8 1667.4 113.8C1669.8 111.9 1672.2 110.9 1675.7 109.7C1679.1 108.6 1684 107.7 1688 106.9C1692 106.2 1696.1 105.3 1699.6 105.3C1703 105.3 1705.7 106.1 1708.6 106.8C1711.5 107.6 1714.4 108 1716.9 109.9C1719.3 111.7 1721.7 115.5 1723.5 118C1725.2 120.4 1726.7 121.8 1727.6 124.6C1728.5 127.3 1728.7 131.2 1728.8 134.5C1729 137.7 1729 141.6 1728.4 144.3C1727.8 147.1 1727 149 1725.1 150.9C1723.2 152.9 1720.3 154.3 1716.9 156C1713.4 157.8 1708.6 159.9 1704.5 161.6C1700.4 163.4 1696.3 164.9 1692.1 166.6C1688 168.2 1683.2 170.4 1679.8 171.5C1676.3 172.7 1674.3 173.6 1671.5 173.6C1668.8 173.6 1665.8 172.5 1663.3 171.7C1660.8 170.9 1659 170.5 1656.7 169.1C1654.4 167.7 1651.8 165.6 1649.3 163.3C1646.8 161 1642.9 157.3 1641.9 155.1Z" fill="url(#g2_5)"/>
<g clip-path="url(#g2_6)">
<ellipse cx="1667.4" cy="119.6" rx="6" ry="14" transform="rotate(40 1667.4 119.6)" fill="#707070" opacity="0.6" filter="url(#b3)"/>
<ellipse cx="1728.4" cy="136.1" rx="3" ry="16" transform="rotate(0 1728.4 136.1)" fill="#888888" opacity="0.7" filter="url(#b3)"/>
<ellipse cx="1700.4" cy="123.7" rx="7" ry="3" transform="rotate(-20 1700.4 123.7)" fill="#a0a0a0" opacity="0.6" filter="url(#b3)"/>
<ellipse cx="1647.6" cy="150.9" rx="5" ry="6" transform="rotate(0 1647.6 150.9)" fill="#909090" opacity="0.6" filter="url(#b3)"/>
<ellipse cx="1690.5" cy="142.7" rx="20" ry="6" transform="rotate(-25 1690.5 142.7)" fill="#ffffff" opacity="0.7" filter="url(#b3)"/>
<ellipse cx="1713.6" cy="127.9" rx="7" ry="10" transform="rotate(0 1713.6 127.9)" fill="#ffffff" opacity="0.5" filter="url(#b3)"/>
</g>
<path d="M1614.1 196.7L1607 186L1647.4 159.4L1654.4 170.1Z" fill="url(#g2_11)"/>
<ellipse cx="1650.9" cy="164.8" rx="6.4" ry="3.2" transform="rotate(56.7 1650.9 164.8)" fill="#008000"/>
<ellipse cx="1610.5" cy="191.3" rx="6.6" ry="6.5" transform="rotate(0 1610.5 191.3)" fill="#00ff00"/>
<path d="M1721.3 123.6L1713.7 113L1759.6 80.1L1767.2 90.7Z" fill="url(#g2_12)"/>
<ellipse cx="1717.5" cy="118.3" rx="6.5" ry="2.5" transform="rotate(54.4 1717.5 118.3)" fill="#ff0000"/>
<ellipse cx="1763.4" cy="85.4" rx="6.5" ry="3" transform="rotate(54.4 1763.4 85.4)" fill="#b40000"/>
<path d="M1740.3 267.9L1714.3 255.3Q1725.1 245.4 1738.4 239.1Z" fill="url(#g2_13)"/>
</g></g>
<g>
<defs><linearGradient id="g3_1" gradientUnits="userSpaceOnUse" x1="660.5" y1="660.7" x2="649.5" y2="672.1"><stop offset="0" stop-color="#d800d8"/><stop offset="0.2" stop-color="#ff00ff"/><stop offset="0.72" stop-color="#ff00ff"/><stop offset="1" stop-color="#c800c8"/></linearGradient><radialGradient id="g3_2" gradientUnits="userSpaceOnUse" cx="788.8" cy="747.7" r="36"><stop offset="0" stop-color="#ececec"/><stop offset="0.4" stop-color="#d8d8d8"/><stop offset="0.75" stop-color="#c0c0c0"/><stop offset="1" stop-color="#909090"/></radialGradient><clipPath id="g3_3"><path d="M774.8 739.5C776.7 734.6 776.6 736.3 778.1 734.9C779.5 733.5 781 732.1 783.4 731.2C785.9 730.3 789.8 729.1 792.9 729.6C796 730 799.5 731.8 802 733.7C804.5 735.6 806.1 738.2 807.7 741.1C809.4 744 810.6 747.9 811.9 751C813.1 754.1 815.2 756.8 815.2 759.6C815.2 762.5 813.2 765.5 811.9 768.3C810.5 771.1 808.8 774.2 806.9 776.5C805 778.9 802.5 781 800.3 782.3C798.1 783.6 795.9 784.7 793.7 784.5C791.5 784.4 789.6 781.7 787.1 781.5C784.7 781.3 781.6 781.9 778.9 783.1C776.2 784.4 773.1 786.7 770.7 788.9C768.2 791.1 766.5 794.5 764.1 796.3C761.6 798.1 758.3 799.8 755.8 799.8C753.4 799.8 750.7 797.7 749.2 796.3C747.7 794.9 745.9 794 746.8 791.4C747.6 788.8 750.9 785.2 754.2 780.7C757.5 776.1 763.1 771 766.5 764.2C770 757.3 772.9 744.3 774.8 739.5Z"/></clipPath><radialGradient id="g3_4" gradientUnits="userSpaceOnUse" cx="811.9" cy="764.2" r="1"><stop offset="0" stop-color="#7a7a7a" stop-opacity="0.6"/><stop offset="0.6" stop-color="#7a7a7a" stop-opacity="0.36"/><stop offset="1" stop-color="#7a7a7a" stop-opacity="0"/></radialGradient><radialGradient id="g3_5" gradientUnits="userSpaceOnUse" cx="762.4" cy="798" r="1"><stop offset="0" stop-color="#8a8a8a" stop-opacity="0.5"/><stop offset="0.6" stop-color="#8a8a8a" stop-opacity="0.3"/><stop offset="1" stop-color="#8a8a8a" stop-opacity="0"/></radialGradient><linearGradient id="g3_6" gradientUnits="userSpaceOnUse" x1="767.9" y1="766.7" x2="757" y2="778.1"><stop offset="0" stop-color="#d800d8"/><stop offset="0.2" stop-color="#ff00ff"/><stop offset="0.72" stop-color="#ff00ff"/><stop offset="1" stop-color="#c800c8"/></linearGradient><linearGradient id="g3_7" gradientUnits="userSpaceOnUse" x1="730" y1="802.1" x2="719.9" y2="793.9"><stop offset="0" stop-color="#00c800"/><stop offset="0.25" stop-color="#00ff00"/><stop offset="0.7" stop-color="#00ff00"/><stop offset="1" stop-color="#00b000"/></linearGradient><radialGradient id="g3_8" gradientUnits="userSpaceOnUse" cx="737.7" cy="760.9" r="40"><stop offset="0" stop-color="#ffffff"/><stop offset="0.3" stop-color="#f2f2f2"/><stop offset="0.65" stop-color="#d6d6d6"/><stop offset="0.9" stop-color="#a8a8a8"/><stop offset="1" stop-color="#8a8a8a"/></radialGradient><clipPath id="g3_9"><path d="M707.6 780.7C707.2 777.9 707.4 775.9 708.2 772.4C708.9 769 711.1 763.9 712.1 760.1C713.2 756.2 713.5 752.5 714.6 749.3C715.7 746.2 716.8 743.8 718.7 741.1C720.7 738.4 723 735.2 726.2 733C729.3 730.9 733.7 729 737.7 728.1C741.7 727.1 745.9 727.3 750.1 727.3C754.2 727.3 759.2 727.7 762.4 728.1C765.6 728.5 767.4 728.7 769.4 729.7C771.5 730.8 773.5 732.6 774.8 734.5C776.1 736.4 777 738.6 777.3 741.1C777.5 743.6 777.1 746.6 776.4 749.3C775.7 752.1 774.4 754.4 773.1 757.6C771.9 760.7 770.4 765.1 769 768.3C767.6 771.5 766.7 774.1 764.9 776.5C763.1 779 760.8 781.1 758.3 783.1C755.8 785.2 752.8 787.1 750.1 788.9C747.3 790.7 744.6 792.3 741.8 793.8C739.1 795.4 736.5 797 733.6 798C730.7 799 727.4 800.1 724.5 799.8C721.6 799.5 718.6 798.1 716.3 796.3C713.9 794.5 711.9 791.5 710.5 788.9C709.1 786.3 708 783.4 707.6 780.7Z"/></clipPath><radialGradient id="g3_10" gradientUnits="userSpaceOnUse" cx="771.5" cy="747.7" r="1"><stop offset="0" stop-color="#7c7c7c" stop-opacity="0.85"/><stop offset="0.6" stop-color="#7c7c7c" stop-opacity="0.51"/><stop offset="1" stop-color="#7c7c7c" stop-opacity="0"/></radialGradient><radialGradient id="g3_11" gradientUnits="userSpaceOnUse" cx="732.7" cy="731.2" r="1"><stop offset="0" stop-color="#7c7c7c" stop-opacity="0.7"/><stop offset="0.6" stop-color="#7c7c7c" stop-opacity="0.42"/><stop offset="1" stop-color="#7c7c7c" stop-opacity="0"/></radialGradient><radialGradient id="g3_12" gradientUnits="userSpaceOnUse" cx="737.7" cy="797.1" r="1"><stop offset="0" stop-color="#707070" stop-opacity="0.6"/><stop offset="0.6" stop-color="#707070" stop-opacity="0.36"/><stop offset="1" stop-color="#707070" stop-opacity="0"/></radialGradient><linearGradient id="g3_13" gradientUnits="userSpaceOnUse" x1="694.4" y1="760.7" x2="695.2" y2="772.9"><stop offset="0" stop-color="#640000"/><stop offset="0.3" stop-color="#880000"/><stop offset="0.7" stop-color="#800000"/><stop offset="1" stop-color="#5c0000"/></linearGradient><linearGradient id="g3_14" gradientUnits="userSpaceOnUse" x1="843.6" y1="828.5" x2="822.5" y2="850.3"><stop offset="0" stop-color="#d000d0"/><stop offset="0.35" stop-color="#ff00ff"/><stop offset="0.75" stop-color="#f000f0"/><stop offset="1" stop-color="#c000c0"/></linearGradient><clipPath id="box3"><rect x="600.8" y="610.4" width="304" height="304"/></clipPath></defs>
<rect x="600.8" y="610.4" width="304" height="304" fill="#000"/>
<g clip-path="url(#box3)" filter="url(#soft)">
<path d="M649.5 672.1L660.5 660.7L736.6 733.8L725.6 745.1Z" fill="url(#g3_1)"/>
<path d="M774.8 739.5C776.7 734.6 776.6 736.3 778.1 734.9C779.5 733.5 781 732.1 783.4 731.2C785.9 730.3 789.8 729.1 792.9 729.6C796 730 799.5 731.8 802 733.7C804.5 735.6 806.1 738.2 807.7 741.1C809.4 744 810.6 747.9 811.9 751C813.1 754.1 815.2 756.8 815.2 759.6C815.2 762.5 813.2 765.5 811.9 768.3C810.5 771.1 808.8 774.2 806.9 776.5C805 778.9 802.5 781 800.3 782.3C798.1 783.6 795.9 784.7 793.7 784.5C791.5 784.4 789.6 781.7 787.1 781.5C784.7 781.3 781.6 781.9 778.9 783.1C776.2 784.4 773.1 786.7 770.7 788.9C768.2 791.1 766.5 794.5 764.1 796.3C761.6 798.1 758.3 799.8 755.8 799.8C753.4 799.8 750.7 797.7 749.2 796.3C747.7 794.9 745.9 794 746.8 791.4C747.6 788.8 750.9 785.2 754.2 780.7C757.5 776.1 763.1 771 766.5 764.2C770 757.3 772.9 744.3 774.8 739.5Z" fill="url(#g3_2)"/>
<g clip-path="url(#g3_3)">
<ellipse cx="811.9" cy="764.2" rx="4" ry="16" transform="rotate(25 811.9 764.2)" fill="#7a7a7a" opacity="0.6" filter="url(#b3)"/>
<ellipse cx="762.4" cy="798" rx="10" ry="3" transform="rotate(-20 762.4 798)" fill="#8a8a8a" opacity="0.5" filter="url(#b3)"/>
<ellipse cx="786.3" cy="741.9" rx="7" ry="2.5" transform="rotate(-40 786.3 741.9)" fill="#ffffff" opacity="0.8" filter="url(#b3)"/>
</g>
<path d="M757 778.1L767.9 766.7L838.5 833.7L827.6 845.2Z" fill="url(#g3_6)"/>
<path d="M719.9 793.9L730 802.1L677 867.2L666.9 859Z" fill="url(#g3_7)"/>
<ellipse cx="671.9" cy="863.1" rx="6.5" ry="2.2" transform="rotate(39 671.9 863.1)" fill="#00c000"/>
<path d="M707.6 780.7C707.2 777.9 707.4 775.9 708.2 772.4C708.9 769 711.1 763.9 712.1 760.1C713.2 756.2 713.5 752.5 714.6 749.3C715.7 746.2 716.8 743.8 718.7 741.1C720.7 738.4 723 735.2 726.2 733C729.3 730.9 733.7 729 737.7 728.1C741.7 727.1 745.9 727.3 750.1 727.3C754.2 727.3 759.2 727.7 762.4 728.1C765.6 728.5 767.4 728.7 769.4 729.7C771.5 730.8 773.5 732.6 774.8 734.5C776.1 736.4 777 738.6 777.3 741.1C777.5 743.6 777.1 746.6 776.4 749.3C775.7 752.1 774.4 754.4 773.1 757.6C771.9 760.7 770.4 765.1 769 768.3C767.6 771.5 766.7 774.1 764.9 776.5C763.1 779 760.8 781.1 758.3 783.1C755.8 785.2 752.8 787.1 750.1 788.9C747.3 790.7 744.6 792.3 741.8 793.8C739.1 795.4 736.5 797 733.6 798C730.7 799 727.4 800.1 724.5 799.8C721.6 799.5 718.6 798.1 716.3 796.3C713.9 794.5 711.9 791.5 710.5 788.9C709.1 786.3 708 783.4 707.6 780.7Z" fill="url(#g3_8)"/>
<g clip-path="url(#g3_9)">
<ellipse cx="771.5" cy="747.7" rx="3.5" ry="22" transform="rotate(12 771.5 747.7)" fill="#7c7c7c" opacity="0.85" filter="url(#b3)"/>
<ellipse cx="732.7" cy="731.2" rx="12" ry="3.5" transform="rotate(-25 732.7 731.2)" fill="#7c7c7c" opacity="0.7" filter="url(#b3)"/>
<ellipse cx="737.7" cy="797.1" rx="18" ry="3" transform="rotate(-25 737.7 797.1)" fill="#707070" opacity="0.6" filter="url(#b3)"/>
<ellipse cx="731.1" cy="757.6" rx="5" ry="4" transform="rotate(0 731.1 757.6)" fill="#ffffff" opacity="0.9" filter="url(#b3)"/>
</g>
<path d="M769.4 730C770.5 731 774.3 734 775.6 736.2C776.9 738.3 777.4 739.7 777.3 742.7C777.1 745.8 776 750.3 774.8 754.3C773.5 758.3 771.3 763.1 769.8 766.6C768.3 770.2 766.4 774.2 765.7 775.7" fill="none" stroke="#3a3a3a" stroke-width="1.4" stroke-linecap="round" opacity="0.7" filter="url(#b1)"/>
<path d="M695.2 772.9L694.4 760.7L724.8 758.7L725.6 770.9Z" fill="url(#g3_13)"/>
<ellipse cx="725.2" cy="764.8" rx="6.1" ry="1.6" transform="rotate(86.3 725.2 764.8)" fill="#800000"/>
<ellipse cx="694.8" cy="766.8" rx="6.2" ry="6.6" transform="rotate(0 694.8 766.8)" fill="#ff0000"/>
<path d="M851.7 857.6L822.5 850.3Q831.5 837.9 843.6 828.5Z" fill="url(#g3_14)"/>
</g></g>
<g>
<defs><linearGradient id="g4_1" gradientUnits="userSpaceOnUse" x1="1597.6" y1="643.9" x2="1584.2" y2="652.7"><stop offset="0" stop-color="#d800d8"/><stop offset="0.2" stop-color="#ff00ff"/><stop offset="0.72" stop-color="#ff00ff"/><stop offset="1" stop-color="#c800c8"/></linearGradient><linearGradient id="g4_2" gradientUnits="userSpaceOnUse" x1="1612.5" y1="805.8" x2="1605.6" y2="794.8"><stop offset="0" stop-color="#c80000"/><stop offset="0.25" stop-color="#ff0000"/><stop offset="0.7" stop-color="#ff0000"/><stop offset="1" stop-color="#b00000"/></linearGradient><linearGradient id="g4_3" gradientUnits="userSpaceOnUse" x1="1696.1" y1="712" x2="1718.1" y2="760.3"><stop offset="0" stop-color="#7c7c7c"/><stop offset="0.25" stop-color="#a8a8a8"/><stop offset="0.5" stop-color="#e8e8e8"/><stop offset="0.68" stop-color="#f4f4f4"/><stop offset="0.85" stop-color="#b8b8b8"/><stop offset="1" stop-color="#8c8c8c"/></linearGradient><clipPath id="g4_4"><path d="M1664.5 742.7C1664 740.5 1667.4 739.2 1669.7 736.6C1672.1 734 1674.9 730.1 1678.5 726.9C1682.2 723.7 1687.3 719.9 1691.7 717.3C1696.1 714.6 1700.5 712.9 1704.9 711.3C1709.3 709.7 1714.1 708.2 1718.1 707.8C1722 707.3 1725.8 707.8 1728.6 708.6C1731.4 709.5 1733.3 711 1734.8 712.9C1736.3 714.7 1736.7 717.1 1737.6 719.9C1738.5 722.7 1738.9 726.6 1740.1 729.6C1741.2 732.5 1743.7 735 1744.5 737.5C1745.2 740 1745.5 742.3 1744.6 744.5C1743.7 746.7 1741.5 748.9 1739.2 750.7C1736.8 752.4 1733.9 753.9 1730.4 755.1C1726.9 756.2 1722.3 757.2 1718.1 757.7C1713.8 758.2 1709 757.5 1704.9 757.9C1700.8 758.2 1696.5 758.7 1693.5 759.6C1690.4 760.5 1688.4 762 1686.4 763.1C1684.5 764.3 1683.2 767 1681.6 766.5C1680 766 1678.3 763.1 1676.8 760.3C1675.2 757.5 1674.4 752.7 1672.4 749.8C1670.3 746.8 1664.9 744.9 1664.5 742.7Z"/></clipPath><radialGradient id="g4_5" gradientUnits="userSpaceOnUse" cx="1732.1" cy="713.7" r="1"><stop offset="0" stop-color="#707070" stop-opacity="0.7"/><stop offset="0.6" stop-color="#707070" stop-opacity="0.42"/><stop offset="1" stop-color="#707070" stop-opacity="0"/></radialGradient><radialGradient id="g4_6" gradientUnits="userSpaceOnUse" cx="1704.9" cy="747.1" r="1"><stop offset="0" stop-color="#8c8c8c" stop-opacity="0.6"/><stop offset="0.6" stop-color="#8c8c8c" stop-opacity="0.36"/><stop offset="1" stop-color="#8c8c8c" stop-opacity="0"/></radialGradient><radialGradient id="g4_7" gradientUnits="userSpaceOnUse" cx="1681.2" cy="753.3" r="1"><stop offset="0" stop-color="#6a6a6a" stop-opacity="0.8"/><stop offset="0.6" stop-color="#6a6a6a" stop-opacity="0.48"/><stop offset="1" stop-color="#6a6a6a" stop-opacity="0"/></radialGradient><linearGradient id="g4_8" gradientUnits="userSpaceOnUse" x1="1639" y1="744.5" x2="1644.2" y2="816.6"><stop offset="0" stop-color="#909090"/><stop offset="0.2" stop-color="#b4b4b4"/><stop offset="0.45" stop-color="#c8c8c8"/><stop offset="0.7" stop-color="#e4e4e4"/><stop offset="0.88" stop-color="#c0c0c0"/><stop offset="1" stop-color="#8a8a8a"/></linearGradient><clipPath id="g4_9"><path d="M1606 788.5C1606.4 785.2 1607.7 781.4 1609.1 777.9C1610.5 774.4 1612.3 770.9 1614.3 767.4C1616.4 763.8 1619 759.9 1621.4 756.8C1623.7 753.8 1625.5 751 1628.4 749.1C1631.3 747.1 1635 746 1639 745.1C1642.9 744.2 1647.7 744.2 1652.1 743.8C1656.5 743.4 1661.7 742.8 1665.3 742.9C1669 743.1 1671.9 743.5 1674.1 744.7C1676.3 745.8 1677.6 747.5 1678.5 749.8C1679.4 752.1 1679.7 755.6 1679.6 758.6C1679.4 761.5 1678.5 764.4 1677.6 767.4C1676.7 770.3 1675.3 773.2 1674.1 776.2C1672.9 779.1 1671.8 782 1670.6 784.9C1669.4 787.9 1668.6 791 1667.1 793.7C1665.6 796.5 1663.9 799.3 1661.8 801.6C1659.8 804 1657.4 805.9 1654.8 807.8C1652.1 809.7 1649.4 811.7 1646 813.1C1642.6 814.5 1638.4 815.6 1634.6 816.3C1630.8 817 1626.5 817.8 1623.1 817.2C1619.8 816.7 1616.7 814.9 1614.3 813.1C1612 811.2 1610.4 808.7 1609.1 806C1607.7 803.4 1606.9 800.2 1606.4 797.3C1605.9 794.3 1605.5 791.7 1606 788.5Z"/></clipPath><radialGradient id="g4_10" gradientUnits="userSpaceOnUse" cx="1670.6" cy="773.5" r="1"><stop offset="0" stop-color="#707070" stop-opacity="0.8"/><stop offset="0.6" stop-color="#707070" stop-opacity="0.48"/><stop offset="1" stop-color="#707070" stop-opacity="0"/></radialGradient><radialGradient id="g4_11" gradientUnits="userSpaceOnUse" cx="1640.7" cy="760.3" r="1"><stop offset="0" stop-color="#a8a8a8" stop-opacity="0.5"/><stop offset="0.6" stop-color="#a8a8a8" stop-opacity="0.3"/><stop offset="1" stop-color="#a8a8a8" stop-opacity="0"/></radialGradient><linearGradient id="g4_12" gradientUnits="userSpaceOnUse" x1="1739.5" y1="847.7" x2="1715.3" y2="863.6"><stop offset="0" stop-color="#d000d0"/><stop offset="0.35" stop-color="#ff00ff"/><stop offset="0.75" stop-color="#f000f0"/><stop offset="1" stop-color="#c000c0"/></linearGradient><clipPath id="box4"><rect x="1513" y="610.4" width="304" height="304"/></clipPath></defs>
<rect x="1513" y="610.4" width="304" height="304" fill="#000"/>
<g clip-path="url(#box4)" filter="url(#soft)">
<path d="M1584.2 652.7L1597.6 643.9L1734.1 851.2L1720.7 860Z" fill="url(#g4_1)"/>
<path d="M1605.6 794.8L1612.5 805.8L1563.7 836.4L1556.8 825.4Z" fill="url(#g4_2)"/>
<ellipse cx="1560.3" cy="830.9" rx="6.5" ry="2.6" transform="rotate(57.4 1560.3 830.9)" fill="#b00000"/>
<path d="M1664.5 742.7C1664 740.5 1667.4 739.2 1669.7 736.6C1672.1 734 1674.9 730.1 1678.5 726.9C1682.2 723.7 1687.3 719.9 1691.7 717.3C1696.1 714.6 1700.5 712.9 1704.9 711.3C1709.3 709.7 1714.1 708.2 1718.1 707.8C1722 707.3 1725.8 707.8 1728.6 708.6C1731.4 709.5 1733.3 711 1734.8 712.9C1736.3 714.7 1736.7 717.1 1737.6 719.9C1738.5 722.7 1738.9 726.6 1740.1 729.6C1741.2 732.5 1743.7 735 1744.5 737.5C1745.2 740 1745.5 742.3 1744.6 744.5C1743.7 746.7 1741.5 748.9 1739.2 750.7C1736.8 752.4 1733.9 753.9 1730.4 755.1C1726.9 756.2 1722.3 757.2 1718.1 757.7C1713.8 758.2 1709 757.5 1704.9 757.9C1700.8 758.2 1696.5 758.7 1693.5 759.6C1690.4 760.5 1688.4 762 1686.4 763.1C1684.5 764.3 1683.2 767 1681.6 766.5C1680 766 1678.3 763.1 1676.8 760.3C1675.2 757.5 1674.4 752.7 1672.4 749.8C1670.3 746.8 1664.9 744.9 1664.5 742.7Z" fill="url(#g4_3)"/>
<g clip-path="url(#g4_4)">
<ellipse cx="1732.1" cy="713.7" rx="7" ry="5" transform="rotate(20 1732.1 713.7)" fill="#707070" opacity="0.7" filter="url(#b3)"/>
<ellipse cx="1704.9" cy="747.1" rx="14" ry="2.5" transform="rotate(-25 1704.9 747.1)" fill="#8c8c8c" opacity="0.6" filter="url(#b3)"/>
<ellipse cx="1681.2" cy="753.3" rx="3" ry="10" transform="rotate(10 1681.2 753.3)" fill="#6a6a6a" opacity="0.8" filter="url(#b3)"/>
<ellipse cx="1709.3" cy="732.2" rx="16" ry="6" transform="rotate(-28 1709.3 732.2)" fill="#ffffff" opacity="0.9" filter="url(#b3)"/>
<ellipse cx="1691.7" cy="742.7" rx="10" ry="4" transform="rotate(-20 1691.7 742.7)" fill="#ffffff" opacity="0.7" filter="url(#b3)"/>
</g>
<path d="M1606 788.5C1606.4 785.2 1607.7 781.4 1609.1 777.9C1610.5 774.4 1612.3 770.9 1614.3 767.4C1616.4 763.8 1619 759.9 1621.4 756.8C1623.7 753.8 1625.5 751 1628.4 749.1C1631.3 747.1 1635 746 1639 745.1C1642.9 744.2 1647.7 744.2 1652.1 743.8C1656.5 743.4 1661.7 742.8 1665.3 742.9C1669 743.1 1671.9 743.5 1674.1 744.7C1676.3 745.8 1677.6 747.5 1678.5 749.8C1679.4 752.1 1679.7 755.6 1679.6 758.6C1679.4 761.5 1678.5 764.4 1677.6 767.4C1676.7 770.3 1675.3 773.2 1674.1 776.2C1672.9 779.1 1671.8 782 1670.6 784.9C1669.4 787.9 1668.6 791 1667.1 793.7C1665.6 796.5 1663.9 799.3 1661.8 801.6C1659.8 804 1657.4 805.9 1654.8 807.8C1652.1 809.7 1649.4 811.7 1646 813.1C1642.6 814.5 1638.4 815.6 1634.6 816.3C1630.8 817 1626.5 817.8 1623.1 817.2C1619.8 816.7 1616.7 814.9 1614.3 813.1C1612 811.2 1610.4 808.7 1609.1 806C1607.7 803.4 1606.9 800.2 1606.4 797.3C1605.9 794.3 1605.5 791.7 1606 788.5Z" fill="url(#g4_8)"/>
<g clip-path="url(#g4_9)">
<ellipse cx="1670.6" cy="773.5" rx="4.5" ry="20" transform="rotate(18 1670.6 773.5)" fill="#707070" opacity="0.8" filter="url(#b3)"/>
<ellipse cx="1640.7" cy="760.3" rx="6" ry="5" transform="rotate(0 1640.7 760.3)" fill="#a8a8a8" opacity="0.5" filter="url(#b3)"/>
<ellipse cx="1624" cy="793.7" rx="12" ry="6" transform="rotate(-30 1624 793.7)" fill="#ffffff" opacity="0.9" filter="url(#b3)"/>
<ellipse cx="1649.5" cy="774.4" rx="9" ry="2.5" transform="rotate(-38 1649.5 774.4)" fill="#ffffff" opacity="0.8" filter="url(#b3)"/>
</g>
<path d="M1674.6 744.9C1675.3 746 1678.1 749.1 1679 751.5C1679.8 754 1680 756.8 1679.8 759.5C1679.7 762.1 1678.4 766 1678.1 767.4" fill="none" stroke="#3a3a3a" stroke-width="1.4" stroke-linecap="round" opacity="0.6" filter="url(#b1)"/>
<path d="M1741.1 876.5L1715.3 863.6Q1726.2 853.8 1739.5 847.7Z" fill="url(#g4_12)"/>
</g></g>
<g>
<defs><linearGradient id="g5_1" gradientUnits="userSpaceOnUse" x1="703.1" y1="1413.5" x2="696.4" y2="1402.4"><stop offset="0" stop-color="#c80000"/><stop offset="0.25" stop-color="#ff0000"/><stop offset="0.7" stop-color="#ff0000"/><stop offset="1" stop-color="#b00000"/></linearGradient><linearGradient id="g5_2" gradientUnits="userSpaceOnUse" x1="807.9" y1="1324.1" x2="814.1" y2="1334.8"><stop offset="0" stop-color="#00c800"/><stop offset="0.25" stop-color="#00ff00"/><stop offset="0.7" stop-color="#00ff00"/><stop offset="1" stop-color="#00b000"/></linearGradient><linearGradient id="g5_3" gradientUnits="userSpaceOnUse" x1="710.8" y1="1361.5" x2="745.9" y2="1414.3"><stop offset="0" stop-color="#969696"/><stop offset="0.25" stop-color="#b0b0b0"/><stop offset="0.5" stop-color="#d2d2d2"/><stop offset="0.75" stop-color="#b8b8b8"/><stop offset="1" stop-color="#8e8e8e"/></linearGradient><clipPath id="g5_4"><path d="M696.3 1403.7C696.3 1401.4 696.8 1398.2 697.6 1394.9C698.4 1391.7 699.8 1388.2 701.1 1384.4C702.4 1380.6 704.3 1375.6 705.5 1372.1C706.7 1368.6 706.4 1365.8 708.3 1363.3C710.2 1360.8 713.4 1358.9 716.9 1357.1C720.4 1355.4 725.1 1353.3 729.2 1352.7C733.3 1352.2 737.6 1353.5 741.5 1353.6C745.5 1353.8 750.5 1352.5 753 1353.8C755.5 1355.1 755.8 1359.1 756.5 1361.5C757.2 1364 756.6 1367 757.4 1368.6C758.1 1370.2 759.1 1370.6 760.9 1371.2C762.6 1371.8 765.8 1371.9 767.9 1372.3C770 1372.6 772.8 1372 773.4 1373.1C773.9 1374.3 772.6 1377.2 771.4 1379.1C770.2 1381 768.2 1382.1 766.2 1384.4C764.1 1386.7 761.2 1390.3 759.1 1393.2C757.1 1396.1 755.9 1399 753.8 1402C751.8 1404.9 749.5 1408 746.8 1410.8C744.2 1413.6 741 1416.7 738 1418.7C735.1 1420.7 732.3 1422.6 729.2 1422.8C726.2 1423 722.9 1421 719.6 1419.7C716.2 1418.5 712.1 1416.5 709 1415.3C705.9 1414.2 703.1 1413.8 701.1 1412.7C699.1 1411.6 697.9 1410.5 697.1 1409C696.3 1407.5 696.2 1406.1 696.3 1403.7Z"/></clipPath><radialGradient id="g5_5" gradientUnits="userSpaceOnUse" cx="698.5" cy="1403.7" r="1"><stop offset="0" stop-color="#555555" stop-opacity="0.8"/><stop offset="0.6" stop-color="#555555" stop-opacity="0.48"/><stop offset="1" stop-color="#555555" stop-opacity="0"/></radialGradient><radialGradient id="g5_6" gradientUnits="userSpaceOnUse" cx="763.5" cy="1383.5" r="1"><stop offset="0" stop-color="#6c6c6c" stop-opacity="0.6"/><stop offset="0.6" stop-color="#6c6c6c" stop-opacity="0.36"/><stop offset="1" stop-color="#6c6c6c" stop-opacity="0"/></radialGradient><radialGradient id="g5_7" gradientUnits="userSpaceOnUse" cx="787.3" cy="1349.2" r="34"><stop offset="0" stop-color="#ffffff"/><stop offset="0.45" stop-color="#f0f0f0"/><stop offset="0.75" stop-color="#d0d0d0"/><stop offset="1" stop-color="#9c9c9c"/></radialGradient><clipPath id="g5_8"><path d="M755.4 1356.3C756 1353.3 757.3 1347.5 759.1 1344C760.9 1340.4 763.5 1337.8 766.2 1335.2C768.8 1332.5 771.7 1330 774.9 1328.1C778.2 1326.3 782 1325 785.5 1323.9C789 1322.8 793.1 1321.8 796 1321.6C799 1321.5 801.2 1322.1 803.1 1322.9C805 1323.6 806 1324.6 807.5 1326.4C808.9 1328.1 810.5 1330.9 811.9 1333.4C813.2 1335.9 814.6 1338.7 815.4 1341.3C816.2 1344 816.7 1346.6 816.8 1349.2C816.9 1351.9 816.6 1354.5 815.8 1357.1C815 1359.8 813.7 1362.7 811.9 1365.1C810 1367.4 807.3 1369.6 804.8 1371.2C802.3 1372.8 800.1 1374.7 796.9 1374.9C793.7 1375.1 789.6 1373 785.5 1372.3C781.4 1371.5 776.3 1370.7 772.3 1370.5C768.4 1370.4 764.2 1372 761.8 1371.4C759.3 1370.8 758.4 1368.5 757.4 1366.8C756.3 1365.2 755.9 1363.3 755.6 1361.5C755.3 1359.8 754.8 1359.2 755.4 1356.3Z"/></clipPath><radialGradient id="g5_9" gradientUnits="userSpaceOnUse" cx="756.5" cy="1358" r="1"><stop offset="0" stop-color="#404040" stop-opacity="0.8"/><stop offset="0.6" stop-color="#404040" stop-opacity="0.48"/><stop offset="1" stop-color="#404040" stop-opacity="0"/></radialGradient><radialGradient id="g5_10" gradientUnits="userSpaceOnUse" cx="785.5" cy="1326.4" r="1"><stop offset="0" stop-color="#909090" stop-opacity="0.5"/><stop offset="0.6" stop-color="#909090" stop-opacity="0.3"/><stop offset="1" stop-color="#909090" stop-opacity="0"/></radialGradient><linearGradient id="g5_11" gradientUnits="userSpaceOnUse" x1="683.1" y1="1253.5" x2="669.9" y2="1262.5"><stop offset="0" stop-color="#d800d8"/><stop offset="0.2" stop-color="#ff00ff"/><stop offset="0.72" stop-color="#ff00ff"/><stop offset="1" stop-color="#c800c8"/></linearGradient><linearGradient id="g5_12" gradientUnits="userSpaceOnUse" x1="770.2" y1="1377.8" x2="756.9" y2="1386.6"><stop offset="0" stop-color="#d800d8"/><stop offset="0.2" stop-color="#ff00ff"/><stop offset="0.72" stop-color="#ff00ff"/><stop offset="1" stop-color="#c800c8"/></linearGradient><linearGradient id="g5_13" gradientUnits="userSpaceOnUse" x1="828.8" y1="1454" x2="804.9" y2="1470.4"><stop offset="0" stop-color="#d000d0"/><stop offset="0.35" stop-color="#ff00ff"/><stop offset="0.75" stop-color="#f000f0"/><stop offset="1" stop-color="#c000c0"/></linearGradient><clipPath id="box5"><rect x="600.8" y="1218.4" width="304" height="304"/></clipPath></defs>
<rect x="600.8" y="1218.4" width="304" height="304" fill="#000"/>
<g clip-path="url(#box5)" filter="url(#soft)">
<path d="M696.4 1402.4L703.1 1413.5L670.9 1432.8L664.3 1421.7Z" fill="url(#g5_1)"/>
<ellipse cx="667.6" cy="1427.3" rx="6.5" ry="2.2" transform="rotate(59 667.6 1427.3)" fill="#d00000"/>
<path d="M814.1 1334.8L807.9 1324.1L826.4 1313.5L832.5 1324.3Z" fill="url(#g5_2)"/>
<ellipse cx="829.5" cy="1318.9" rx="6.2" ry="3.4" transform="rotate(60.3 829.5 1318.9)" fill="#00f000"/>
<path d="M696.3 1403.7C696.3 1401.4 696.8 1398.2 697.6 1394.9C698.4 1391.7 699.8 1388.2 701.1 1384.4C702.4 1380.6 704.3 1375.6 705.5 1372.1C706.7 1368.6 706.4 1365.8 708.3 1363.3C710.2 1360.8 713.4 1358.9 716.9 1357.1C720.4 1355.4 725.1 1353.3 729.2 1352.7C733.3 1352.2 737.6 1353.5 741.5 1353.6C745.5 1353.8 750.5 1352.5 753 1353.8C755.5 1355.1 755.8 1359.1 756.5 1361.5C757.2 1364 756.6 1367 757.4 1368.6C758.1 1370.2 759.1 1370.6 760.9 1371.2C762.6 1371.8 765.8 1371.9 767.9 1372.3C770 1372.6 772.8 1372 773.4 1373.1C773.9 1374.3 772.6 1377.2 771.4 1379.1C770.2 1381 768.2 1382.1 766.2 1384.4C764.1 1386.7 761.2 1390.3 759.1 1393.2C757.1 1396.1 755.9 1399 753.8 1402C751.8 1404.9 749.5 1408 746.8 1410.8C744.2 1413.6 741 1416.7 738 1418.7C735.1 1420.7 732.3 1422.6 729.2 1422.8C726.2 1423 722.9 1421 719.6 1419.7C716.2 1418.5 712.1 1416.5 709 1415.3C705.9 1414.2 703.1 1413.8 701.1 1412.7C699.1 1411.6 697.9 1410.5 697.1 1409C696.3 1407.5 696.2 1406.1 696.3 1403.7Z" fill="url(#g5_3)"/>
<g clip-path="url(#g5_4)">
<ellipse cx="698.5" cy="1403.7" rx="3" ry="10" transform="rotate(10 698.5 1403.7)" fill="#555555" opacity="0.8" filter="url(#b3)"/>
<ellipse cx="763.5" cy="1383.5" rx="6" ry="10" transform="rotate(30 763.5 1383.5)" fill="#6c6c6c" opacity="0.6" filter="url(#b3)"/>
<ellipse cx="739.8" cy="1377.4" rx="13" ry="3.2" transform="rotate(-42 739.8 1377.4)" fill="#ffffff" opacity="0.9" filter="url(#b3)"/>
<ellipse cx="715.2" cy="1399.3" rx="12" ry="5" transform="rotate(-38 715.2 1399.3)" fill="#f0f0f0" opacity="0.8" filter="url(#b3)"/>
</g>
<path d="M755.4 1356.3C756 1353.3 757.3 1347.5 759.1 1344C760.9 1340.4 763.5 1337.8 766.2 1335.2C768.8 1332.5 771.7 1330 774.9 1328.1C778.2 1326.3 782 1325 785.5 1323.9C789 1322.8 793.1 1321.8 796 1321.6C799 1321.5 801.2 1322.1 803.1 1322.9C805 1323.6 806 1324.6 807.5 1326.4C808.9 1328.1 810.5 1330.9 811.9 1333.4C813.2 1335.9 814.6 1338.7 815.4 1341.3C816.2 1344 816.7 1346.6 816.8 1349.2C816.9 1351.9 816.6 1354.5 815.8 1357.1C815 1359.8 813.7 1362.7 811.9 1365.1C810 1367.4 807.3 1369.6 804.8 1371.2C802.3 1372.8 800.1 1374.7 796.9 1374.9C793.7 1375.1 789.6 1373 785.5 1372.3C781.4 1371.5 776.3 1370.7 772.3 1370.5C768.4 1370.4 764.2 1372 761.8 1371.4C759.3 1370.8 758.4 1368.5 757.4 1366.8C756.3 1365.2 755.9 1363.3 755.6 1361.5C755.3 1359.8 754.8 1359.2 755.4 1356.3Z" fill="url(#g5_7)"/>
<g clip-path="url(#g5_8)">
<ellipse cx="756.5" cy="1358" rx="2.2" ry="12" transform="rotate(5 756.5 1358)" fill="#404040" opacity="0.8" filter="url(#b3)"/>
<ellipse cx="785.5" cy="1326.4" rx="14" ry="3" transform="rotate(-15 785.5 1326.4)" fill="#909090" opacity="0.5" filter="url(#b3)"/>
</g>
<path d="M756.5 1352.7C756.3 1353.9 755.2 1357.4 755.2 1359.8C755.2 1362.1 755.4 1364.9 756.5 1366.8C757.6 1368.7 759.1 1370.7 761.8 1371.4C764.4 1372 770.5 1370.9 772.3 1370.8" fill="none" stroke="#2c2c2c" stroke-width="1.4" stroke-linecap="round" opacity="0.75" filter="url(#b1)"/>
<path d="M669.9 1262.5L683.1 1253.5L749.5 1351.8L736.2 1360.7Z" fill="url(#g5_11)"/>
<ellipse cx="742.9" cy="1356.3" rx="8" ry="2.6" transform="rotate(145.5 742.9 1356.3)" fill="#f000f0"/>
<path d="M756.9 1386.6L770.2 1377.8L823.5 1457.8L810.2 1466.6Z" fill="url(#g5_12)"/>
<ellipse cx="763.5" cy="1382.2" rx="8" ry="5.5" transform="rotate(145.5 763.5 1382.2)" fill="#ff00ff"/>
<path d="M831 1482.8L804.9 1470.4Q815.6 1460.4 828.8 1454Z" fill="url(#g5_13)"/>
</g></g>
</svg>
</body></html>
